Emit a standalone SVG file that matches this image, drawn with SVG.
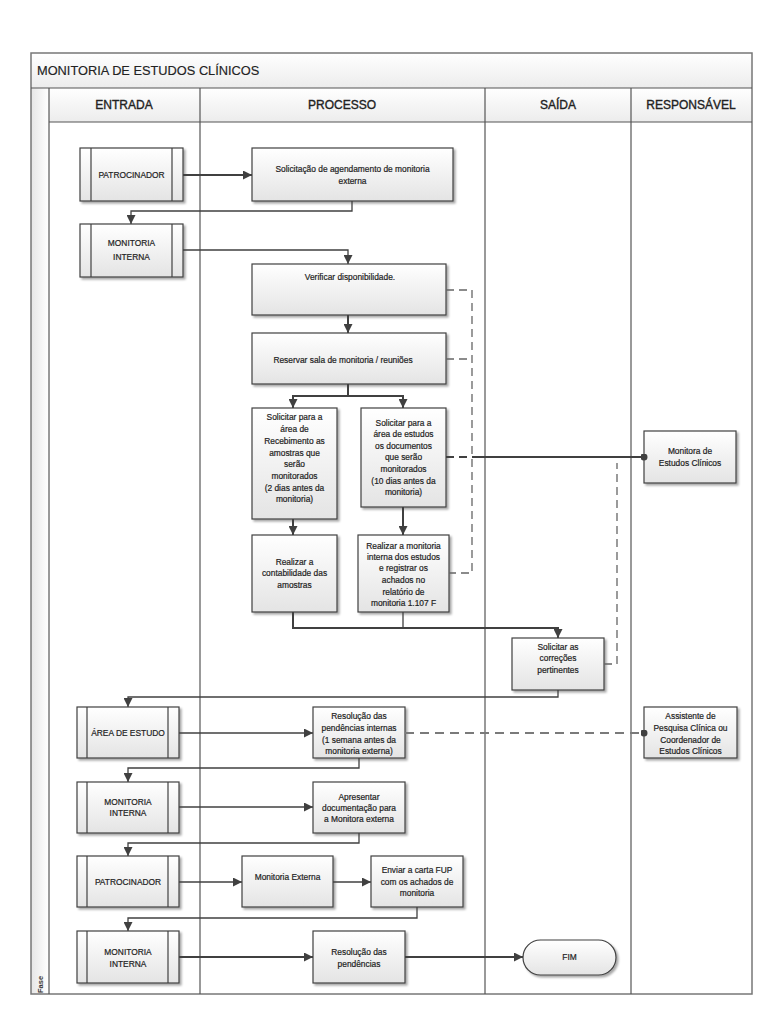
<svg xmlns="http://www.w3.org/2000/svg" width="768" height="1024" viewBox="0 0 768 1024">
<defs>
<linearGradient id="gBox" x1="0" y1="0" x2="0" y2="1"><stop offset="0" stop-color="#ffffff"/><stop offset="1" stop-color="#e4e4e4"/></linearGradient>
<linearGradient id="gHead" x1="0" y1="0" x2="0" y2="1"><stop offset="0" stop-color="#ffffff"/><stop offset="1" stop-color="#ececec"/></linearGradient>
<linearGradient id="gFase" x1="0" y1="0" x2="1" y2="0"><stop offset="0" stop-color="#e6e6e6"/><stop offset="1" stop-color="#ffffff"/></linearGradient>
<filter id="sh" x="-10%" y="-10%" width="130%" height="130%"><feDropShadow dx="2" dy="2" stdDeviation="0.8" flood-color="#000" flood-opacity="0.35"/></filter>
<marker id="arr" viewBox="0 0 10 10" refX="10" refY="5" markerWidth="9" markerHeight="9" markerUnits="userSpaceOnUse" orient="auto"><path d="M0,0 L10,5 L0,10 z" fill="#404040"/></marker>
<marker id="dot" viewBox="0 0 10 10" refX="5" refY="5" markerWidth="7" markerHeight="7" markerUnits="userSpaceOnUse"><circle cx="5" cy="5" r="5" fill="#404040"/></marker>
<style>
.box{fill:url(#gBox);stroke:#404040;stroke-width:1.2;filter:url(#sh)}
.in{stroke:#404040;stroke-width:1.2}
.t{font-family:"Liberation Sans",Arial,sans-serif;font-size:8.4px;fill:#1e1e1e;stroke:#1e1e1e;stroke-width:0.2;text-anchor:middle}
.h{font-family:"Liberation Sans",Arial,sans-serif;font-size:12px;fill:#222;stroke:#222;stroke-width:0.35;text-anchor:middle}
.c{fill:none;stroke:#404040;stroke-width:1.3}
.ck{fill:none;stroke:#404040;stroke-width:2}
.d{fill:none;stroke:#666;stroke-width:1.3;stroke-dasharray:8 5}
.dk{fill:none;stroke:#404040;stroke-width:2;stroke-dasharray:8 5}
.dg{fill:none;stroke:#7a7a7a;stroke-width:1.8;stroke-dasharray:9 6}
.grid{stroke:#555;stroke-width:1.2;fill:none}
</style>
</defs>
<rect width="768" height="1024" fill="#ffffff"/>

<g id="frame">
<rect x="31" y="53" width="721" height="35" fill="url(#gHead)"/>
<rect x="31" y="88" width="18" height="906" fill="url(#gFase)"/>
<rect x="49" y="88" width="703" height="34" fill="url(#gHead)"/>
<rect x="31" y="53" width="721" height="941" fill="none" stroke="#777" stroke-width="1.5"/>
<line class="grid" x1="31" y1="88" x2="752" y2="88"/>
<line class="grid" x1="49" y1="88" x2="49" y2="994"/>
<line class="grid" x1="49" y1="122" x2="752" y2="122"/>
<line class="grid" x1="200" y1="88" x2="200" y2="994"/>
<line class="grid" x1="485" y1="88" x2="485" y2="994"/>
<line class="grid" x1="631" y1="88" x2="631" y2="994"/>
<text x="37" y="75" font-family="Liberation Sans, Arial, sans-serif" font-size="12.8" fill="#222" stroke="#222" stroke-width="0.15">MONITORIA DE ESTUDOS CLÍNICOS</text>
<text class="h" x="124" y="109">ENTRADA</text>
<text class="h" x="342" y="109">PROCESSO</text>
<text class="h" x="558" y="109">SAÍDA</text>
<text class="h" x="691" y="109">RESPONSÁVEL</text>
<text x="0" y="0" transform="translate(43,993) rotate(-90)" font-family="Liberation Sans, Arial, sans-serif" font-size="7.5" font-weight="bold" fill="#333">Fase</text>
</g>

<g id="n-patrocinador1"><rect class="box" x="80" y="148" width="103" height="53"/><line class="in" x1="91" y1="148" x2="91" y2="201"/><line class="in" x1="172" y1="148" x2="172" y2="201"/><text class="t" x="131.5" y="178">PATROCINADOR</text></g>
<g id="n-solicitacao"><rect class="box" x="252" y="148" width="201" height="53"/><text class="t" x="352.5" y="172">Solicitação de agendamento de monitoria</text><text class="t" x="352.5" y="184">externa</text></g>
<g id="n-monitoria-interna1"><rect class="box" x="80" y="224" width="103" height="53"/><line class="in" x1="91" y1="224" x2="91" y2="277"/><line class="in" x1="172" y1="224" x2="172" y2="277"/><text class="t" x="131.5" y="246">MONITORIA</text><text class="t" x="131.5" y="260">INTERNA</text></g>
<g id="n-verificar"><rect class="box" x="252" y="264" width="194" height="51"/><text class="t" x="350" y="280">Verificar disponibilidade.</text></g>
<g id="n-reservar"><rect class="box" x="252" y="333" width="194" height="51"/><text class="t" x="343" y="363">Reservar sala de monitoria / reuniões</text></g>
<g id="n-sol-recebimento"><rect class="box" x="252" y="408" width="85" height="111"/>
<text class="t" x="294.5" y="420">Solicitar para a</text><text class="t" x="294.5" y="432">área de</text><text class="t" x="294.5" y="444">Recebimento as</text><text class="t" x="294.5" y="456">amostras que</text><text class="t" x="294.5" y="467">serão</text><text class="t" x="294.5" y="479">monitorados</text><text class="t" x="294.5" y="491">(2 dias antes da</text><text class="t" x="294.5" y="502">monitoria)</text></g>
<g id="n-sol-estudos"><rect class="box" x="361" y="408" width="85" height="99"/>
<text class="t" x="403.5" y="426">Solicitar para a</text><text class="t" x="403.5" y="437">área de estudos</text><text class="t" x="403.5" y="449">os documentos</text><text class="t" x="403.5" y="460">que serão</text><text class="t" x="403.5" y="472">monitorados</text><text class="t" x="403.5" y="484">(10 dias antes da</text><text class="t" x="403.5" y="495">monitoria)</text></g>
<g id="n-contabilidade"><rect class="box" x="252" y="535" width="85" height="77"/><text class="t" x="294.5" y="565">Realizar a</text><text class="t" x="294.5" y="576">contabilidade das</text><text class="t" x="294.5" y="588">amostras</text></g>
<g id="n-realizar-monitoria"><rect class="box" x="358" y="535" width="91" height="77"/>
<text class="t" x="403.5" y="549">Realizar a monitoria</text><text class="t" x="403.5" y="560">interna dos estudos</text><text class="t" x="403.5" y="571">e registrar os</text><text class="t" x="403.5" y="583">achados no</text><text class="t" x="403.5" y="595">relatório de</text><text class="t" x="403.5" y="606">monitoria 1.107 F</text></g>
<g id="n-correcoes"><rect class="box" x="512" y="638" width="92" height="52"/><text class="t" x="558" y="650">Solicitar as</text><text class="t" x="558" y="661">correções</text><text class="t" x="558" y="673">pertinentes</text></g>
<g id="n-monitora"><rect class="box" x="644" y="431" width="92" height="52"/><text class="t" x="690" y="454">Monitora de</text><text class="t" x="690" y="466">Estudos Clínicos</text></g>
<g id="n-area-estudo"><rect class="box" x="77" y="707" width="102" height="51"/><line class="in" x1="87" y1="707" x2="87" y2="758"/><line class="in" x1="168" y1="707" x2="168" y2="758"/><text class="t" x="128" y="736">ÁREA DE ESTUDO</text></g>
<g id="n-resolucao-internas"><rect class="box" x="313" y="707" width="92" height="51"/><text class="t" x="359" y="719">Resolução das</text><text class="t" x="359" y="731">pendências internas</text><text class="t" x="359" y="743">(1 semana antes da</text><text class="t" x="359" y="754">monitoria externa)</text></g>
<g id="n-assistente"><rect class="box" x="644" y="707" width="93" height="51"/><text class="t" x="690.5" y="719">Assistente de</text><text class="t" x="690.5" y="731">Pesquisa Clínica ou</text><text class="t" x="690.5" y="743">Coordenador de</text><text class="t" x="690.5" y="754">Estudos Clínicos</text></g>
<g id="n-monitoria-interna2"><rect class="box" x="77" y="782" width="102" height="51"/><line class="in" x1="87" y1="782" x2="87" y2="833"/><line class="in" x1="168" y1="782" x2="168" y2="833"/><text class="t" x="128" y="805">MONITORIA</text><text class="t" x="128" y="816">INTERNA</text></g>
<g id="n-apresentar"><rect class="box" x="313" y="782" width="92" height="51"/><text class="t" x="359" y="800">Apresentar</text><text class="t" x="359" y="811">documentação para</text><text class="t" x="359" y="822">a Monitora externa</text></g>
<g id="n-patrocinador2"><rect class="box" x="77" y="856" width="102" height="51"/><line class="in" x1="87" y1="856" x2="87" y2="907"/><line class="in" x1="168" y1="856" x2="168" y2="907"/><text class="t" x="128" y="885">PATROCINADOR</text></g>
<g id="n-monitoria-externa"><rect class="box" x="242" y="856" width="91" height="51"/><text class="t" x="287.5" y="880">Monitoria Externa</text></g>
<g id="n-enviar-carta"><rect class="box" x="371" y="856" width="92" height="51"/><text class="t" x="417" y="873">Enviar a carta FUP</text><text class="t" x="417" y="885">com os achados de</text><text class="t" x="417" y="896">monitoria</text></g>
<g id="n-monitoria-interna3"><rect class="box" x="77" y="931" width="102" height="52"/><line class="in" x1="87" y1="931" x2="87" y2="983"/><line class="in" x1="168" y1="931" x2="168" y2="983"/><text class="t" x="128" y="955">MONITORIA</text><text class="t" x="128" y="967">INTERNA</text></g>
<g id="n-resolucao"><rect class="box" x="313" y="931" width="92" height="52"/><text class="t" x="359" y="955">Resolução das</text><text class="t" x="359" y="967">pendências</text></g>
<g id="n-fim"><rect class="box" x="523" y="940" width="93" height="35" rx="17.5" ry="17.5"/><text class="t" x="569.5" y="960">FIM</text></g>

<g id="connectors">
<path class="ck" d="M183,175 H252" marker-end="url(#arr)"/>
<path class="c" d="M352,201 V211 H131 V224" marker-end="url(#arr)"/>
<path class="c" d="M183,250 H348 V264" marker-end="url(#arr)"/>
<path class="ck" d="M348,315 V333" marker-end="url(#arr)"/>
<path class="ck" d="M348,384 V396 H293 V408" marker-end="url(#arr)"/>
<path class="ck" d="M348,396 H403 V408" marker-end="url(#arr)"/>
<path class="ck" d="M293,519 V535" marker-end="url(#arr)"/>
<path class="ck" d="M403,507 V535" marker-end="url(#arr)"/>
<path class="ck" d="M293,612 V628 H558 V638" marker-end="url(#arr)"/>
<path class="c" d="M403,612 V628"/>
<path class="c" d="M558,690 V697 H128 V707" marker-end="url(#arr)"/>
<path class="c" d="M179,733 H313" marker-end="url(#arr)"/>
<path class="c" d="M359,758 V768 H128 V782" marker-end="url(#arr)"/>
<path class="c" d="M179,807 H313" marker-end="url(#arr)"/>
<path class="c" d="M359,833 V843 H128 V856" marker-end="url(#arr)"/>
<path class="c" d="M179,882 H242" marker-end="url(#arr)"/>
<path class="c" d="M333,882 H371" marker-end="url(#arr)"/>
<path class="c" d="M417,907 V918 H128 V931" marker-end="url(#arr)"/>
<path class="ck" d="M179,957 H313" marker-end="url(#arr)"/>
<path class="ck" d="M405,957 H523" marker-end="url(#arr)"/>
<path class="d" d="M446,290 H472 V573 H449"/>
<path class="d" d="M446,359 H472"/>
<path class="dk" d="M446,457 H472"/>
<path class="ck" d="M472,457 H644" marker-end="url(#dot)"/>
<path class="d" d="M604,664 H617 V463"/>
<path class="dg" d="M405,733 H644" marker-end="url(#dot)"/>
</g>
</svg>
